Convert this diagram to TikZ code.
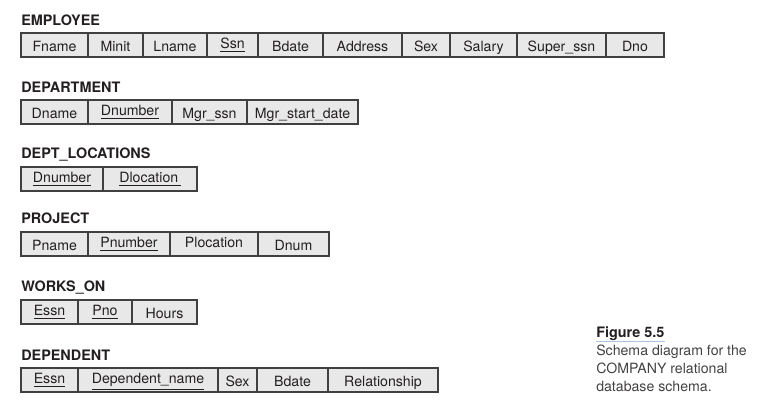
\documentclass[tikz,border=0pt]{standalone}
\usepackage{fontspec}
\setmainfont{TeX Gyre Heros}
\usepackage{tikz}
\usetikzlibrary{calc}
\usepackage{color}

\definecolor{ink}{HTML}{231F20}
\definecolor{cellfill}{HTML}{E8E8E8}
\definecolor{cellline}{HTML}{404040}
\definecolor{figblue}{HTML}{A9C4E0}

\newcommand{\pk}[1]{\raisebox{1.6pt}{\underline{#1}}}

\begin{document}
\begin{tikzpicture}[x=0.75pt, y=-0.75pt,
    cell/.style={draw=cellline, fill=cellfill, line width=0.8pt, rectangle,
      outer sep=0pt, inner sep=0pt, anchor=north west, text=ink,
      minimum width=#1*0.75pt, minimum height=18pt,
      text height=9pt, text depth=0pt, font=\fontsize{10.6}{12}\selectfont},
    title/.style={anchor=base west, inner sep=0pt, text=ink,
      font=\fontsize{10.8}{12}\selectfont\bfseries}]

    \useasboundingbox (0, 0) rectangle (761, 405);

    % EMPLOYEE
    \node[title] (emp) at (21, 25) {EMPLOYEE};
    \node[cell=67] (e1) at (21, 33) {Fname};
    \node[cell=55] (e2) at (e1.north east) {Minit};
    \node[cell=64] (e3) at (e2.north east) {Lname};
    \node[cell=51] (e4) at (e3.north east) {\pk{Ssn}};
    \node[cell=65] (e5) at (e4.north east) {Bdate};
    \node[cell=79] (e6) at (e5.north east) {Address};
    \node[cell=48] (e7) at (e6.north east) {Sex};
    \node[cell=67] (e8) at (e7.north east) {Salary};
    \node[cell=89] (e9) at (e8.north east) {Super\_ssn};
    \node[cell=58] (e10) at (e9.north east) {Dno};

    % DEPARTMENT
    \node[title] (dep) at (21, 92) {DEPARTMENT};
    \node[cell=67] (d1) at (21, 100) {Dname};
    \node[cell=84] (d2) at (d1.north east) {\pk{Dnumber}};
    \node[cell=75] (d3) at (d2.north east) {Mgr\_ssn};
    \node[cell=111] (d4) at (d3.north east) {Mgr\_start\_date};

    % DEPT_LOCATIONS
    \node[title] (loc) at (21, 158) {DEPT\_LOCATIONS};
    \node[cell=82] (l1) at (21, 167) {\pk{Dnumber}};
    \node[cell=94] (l2) at (l1.north east) {\pk{Dlocation\,}};

    % PROJECT
    \node[title] (proj) at (21, 223) {PROJECT};
    \node[cell=67] (p1) at (21, 232) {Pname};
    \node[cell=82] (p2) at (p1.north east) {\pk{Pnumber}};
    \node[cell=88] (p3) at (p2.north east) {\raisebox{1.6pt}{Plocation}};
    \node[cell=71] (p4) at (p3.north east) {Dnum};

    % WORKS_ON
    \node[title] (works) at (21, 291) {WORKS\_ON};
    \node[cell=57] (w1) at (21, 300) {\pk{Essn}};
    \node[cell=54] (w2) at (w1.north east) {\pk{Pno}};
    \node[cell=65] (w3) at (w2.north east) {Hours};

    % DEPENDENT
    \node[title] (dpt) at (21, 360) {DEPENDENT};
    \node[cell=57] (t1) at (21, 368) {\pk{Essn}};
    \node[cell=140] (t2) at (t1.north east) {\pk{Dependent\_name}};
    \node[cell=39] (t3) at (t2.north east) {Sex};
    \node[cell=71] (t4) at (t3.north east) {Bdate};
    \node[cell=110] (t5) at (t4.north east) {Relationship};

    % caption
    \node[title] (fig) at (596, 337) {Figure 5.5};
    \draw[figblue, line width=0.6pt] ($(fig.base west)+(0,4)$) -- ($(fig.base east)+(0,4)$);
    \node[anchor=north west, inner sep=0pt, align=left, text=ink!85,
      font=\fontsize{10.6}{13.5}\selectfont] (cap) at (596, 345)
      {Schema diagram for the\\COMPANY relational\\database schema.};

\end{tikzpicture}
\end{document}
